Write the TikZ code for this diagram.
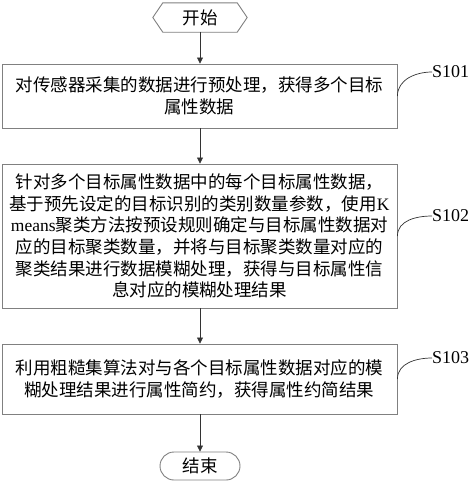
\documentclass[tikz,border=0pt]{standalone}
\usepackage{fontspec}
\setmainfont{Noto Sans CJK SC}
\newfontfamily\lat{Liberation Serif}
\usetikzlibrary{shapes.misc,arrows.meta,calc}
\begin{document}
\begin{tikzpicture}[x=1pt,y=-1pt,
  boxcol/.style={draw=black!50, line width=0.9pt},
  stepbox/.style={boxcol, minimum width=395pt, inner sep=0pt, align=center,
    font=\fontsize{17.5pt}{21.7pt}\selectfont},
  termtext/.style={inner sep=0pt, font=\fontsize{17.5pt}{21pt}\selectfont},
  flow/.style={draw=black!80, line width=0.7pt, -{Triangle[length=6pt,width=6pt]}},
  lbl/.style={inner sep=0pt, anchor=west, font=\lat\fontsize{18pt}{20pt}\selectfont},
  lblline/.style={draw=black!80, line width=0.7pt}
]
\useasboundingbox (0,0) rectangle (474,482);
\fill[white] (0,0) rectangle (474,482);

\node[termtext, minimum width=94pt, minimum height=29pt] (start) at (200,17.5) {开始};
\draw[boxcol] (start.west) -- ($(start.north west)+(10pt,0)$) -- ($(start.north east)+(-10pt,0)$)
  -- (start.east) -- ($(start.south east)+(-10pt,0)$) -- ($(start.south west)+(10pt,0)$) -- cycle;

\node[stepbox, minimum height=64pt] (s1) at (199.5,96)
  {对传感器采集的数据进行预处理，获得多个目标\\属性数据};
\node[stepbox, minimum height=144pt] (s2) at (199.5,236)
  {针对多个目标属性数据中的每个目标属性数据，\\
   基于预先设定的目标识别的类别数量参数，使用{\lat K}\\
   {\lat means}聚类方法按预设规则确定与目标属性数据对\\
   应的目标聚类数量，并将与目标聚类数量对应的\\
   聚类结果进行数据模糊处理，获得与目标属性信\\
   息对应的模糊处理结果};
\node[stepbox, minimum height=70pt] (s3) at (199.5,379)
  {利用粗糙集算法对与各个目标属性数据对应的模\\糊处理结果进行属性简约，获得属性约简结果};
\node[termtext, boxcol, rounded rectangle, minimum width=80pt, minimum height=28pt] (stop) at (200,466) {结束};

\draw[flow] (start.south) -- (start.south |- s1.north);
\draw[flow] (s1.south -| start.south) -- (start.south |- s2.north);
\draw[flow] (s2.south -| start.south) -- (start.south |- s3.north);
\draw[flow] (s3.south -| start.south) -- (stop.north);

\node[lbl] (l1) at (432,72) {S101};
\node[lbl] (l2) at (432,216) {S102};
\node[lbl] (l3) at (432,358) {S103};
\draw[lblline] (s1.east) to[out=90,in=180] (l1.west);
\draw[lblline] (s2.east) to[out=90,in=180] (l2.west);
\draw[lblline] (s3.east) to[out=90,in=180] (l3.west);
\end{tikzpicture}
\end{document}
